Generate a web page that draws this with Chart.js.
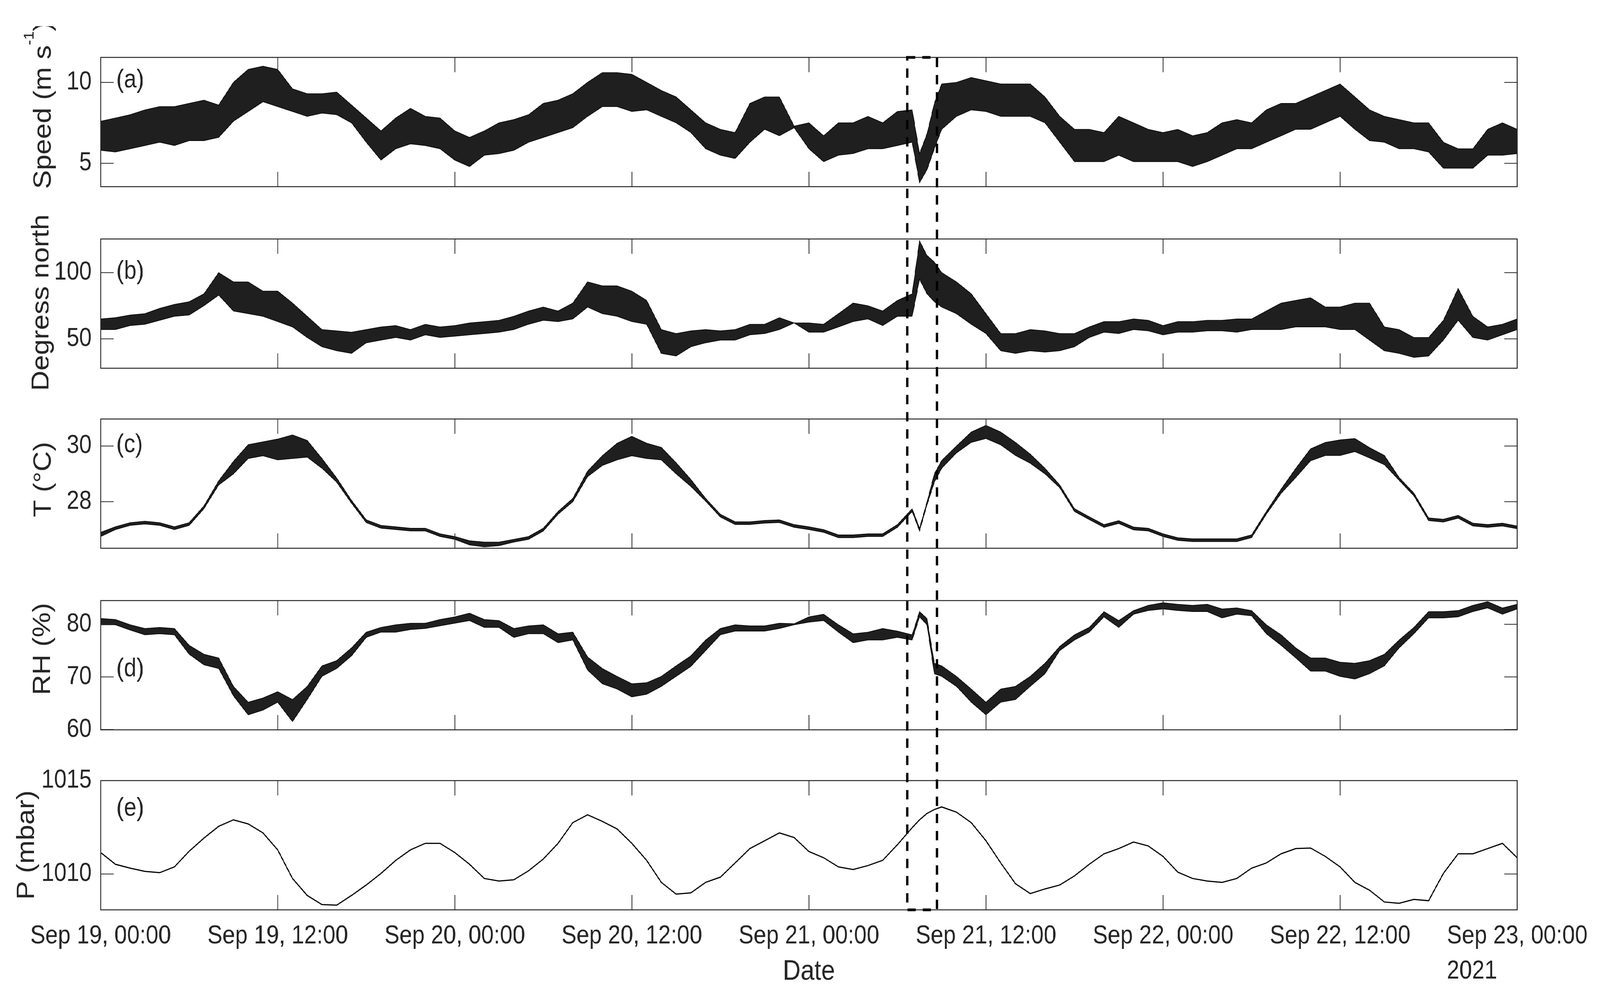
<!DOCTYPE html>
<html>
<head>
<meta charset="utf-8">
<script src="https://cdn.jsdelivr.net/npm/chart.js@4.4.1/dist/chart.umd.min.js"></script>
<style>
html,body{margin:0;padding:0;background:#fff;overflow:hidden;}
#outer{position:relative;overflow:hidden;background:#fff;}
#wrap{position:absolute;left:0;top:0;width:4674px;height:2566px;overflow:hidden;background:#fff;transform-origin:0 0;}
#wrap canvas{position:absolute;left:0;}
</style>
</head>
<body>
<div id="outer"><div id="wrap"></div></div>
<script>
// ---------------- DATA ----------------
// hours since Sep 19, 00:00 (2021)
const hours = [0,1,2,3,4,5,6,7,8,9,10,11,12,13,14,15,16,17,18,19,20,21,22,23,24,25,26,27,28,29,30,31,32,33,34,35,36,37,38,39,40,41,42,43,44,45,46,47,48,49,50,51,52,53,54,55,55.5,56,56.5,57,58,59,60,61,62,63,64,65,66,67,68,69,70,71,72,73,74,75,76,77,78,79,80,81,82,83,84,85,86,87,88,89,90,91,92,93,94,95,96];

// (a) wind speed, m/s: upper / lower edge of the noisy trace
const speedHi = [7.6,7.8,8.0,8.3,8.5,8.5,8.7,8.9,8.6,10.0,10.8,11.0,10.8,9.6,9.3,9.3,9.4,8.6,7.8,7.0,7.8,8.4,7.9,7.8,7.0,6.6,7.0,7.5,7.7,8.0,8.7,8.9,9.3,10.0,10.6,10.6,10.5,10.0,9.5,9.1,8.3,7.5,7.1,6.9,8.7,9.1,9.1,7.3,7.5,6.7,7.5,7.5,7.9,7.5,8.2,8.3,5.6,6.8,8.7,9.9,10.0,10.3,10.1,9.9,9.9,9.9,9.1,7.9,7.1,7.1,6.9,7.9,7.5,7.1,6.9,7.1,6.7,6.9,7.5,7.7,7.5,8.3,8.7,8.7,9.1,9.5,9.9,9.1,8.3,7.9,7.7,7.5,7.5,6.3,5.9,5.9,7.1,7.5,7.1];
const speedLo = [5.8,5.7,5.9,6.1,6.3,6.1,6.4,6.4,6.6,7.6,8.2,8.8,8.5,8.2,7.9,8.1,8.0,7.5,6.3,5.2,5.9,6.2,6.1,5.9,5.2,4.8,5.5,5.6,5.8,6.3,6.6,6.9,7.2,7.9,8.5,8.5,8.2,8.3,7.9,7.5,6.9,5.9,5.5,5.3,6.3,7.1,6.7,7.2,5.9,5.1,5.5,5.6,5.9,5.9,6.1,6.3,3.8,4.6,5.9,7.1,7.9,8.3,8.2,7.9,7.9,7.9,7.5,6.3,5.1,5.1,5.1,5.5,5.1,5.1,5.1,5.1,4.8,5.1,5.5,5.9,5.9,6.3,6.7,7.1,7.1,7.5,7.9,7.1,6.4,6.3,5.9,5.9,5.7,4.7,4.7,4.7,5.5,5.5,5.6];

// (b) wind direction, degrees north
const dirHi = [65,66,68,69,73,76,78,84,100,93,93,86,86,77,67,57,56,55,57,59,60,57,61,59,60,62,63,64,67,71,74,71,77,93,90,90,86,79,57,54,56,57,56,57,61,61,66,62,62,61,69,77,75,71,79,84,124,113,108,100,93,84,69,54,54,57,56,54,54,59,63,63,65,64,60,63,63,64,64,65,65,71,77,79,81,74,74,77,77,59,57,51,51,64,88,67,59,61,65];
const dirLo = [57,57,60,61,64,67,68,75,83,71,69,67,63,59,51,44,41,39,47,49,51,49,53,51,52,53,54,55,57,61,64,63,65,74,69,67,63,61,39,37,44,47,49,49,53,54,57,62,55,55,59,63,65,60,67,67,95,84,78,74,69,61,54,41,39,41,40,41,44,51,55,54,57,56,53,55,55,56,56,55,57,57,57,59,59,59,57,57,49,41,39,36,37,49,64,51,49,53,57];

// (c) air temperature, deg C
const tempHi = [26.9,27.1,27.25,27.3,27.25,27.1,27.25,27.85,28.75,29.45,30.05,30.15,30.25,30.4,30.2,29.55,28.85,28.05,27.35,27.15,27.1,27.05,27.05,26.85,26.75,26.6,26.55,26.55,26.65,26.75,27.05,27.65,28.12,29.1,29.65,30.1,30.35,30.1,29.95,29.4,28.8,28.12,27.55,27.28,27.28,27.33,27.35,27.18,27.1,27.0,26.81,26.81,26.85,26.85,27.18,27.75,27.05,27.98,29.0,29.48,30.0,30.5,30.74,30.5,30.13,29.71,29.2,28.6,27.75,27.46,27.18,27.32,27.09,27.05,26.85,26.71,26.67,26.67,26.67,26.67,26.81,27.65,28.45,29.2,29.9,30.13,30.22,30.27,29.94,29.66,28.87,28.31,27.42,27.37,27.51,27.23,27.18,27.23,27.13];
const tempLo = [26.75,27.0,27.15,27.2,27.15,27.0,27.15,27.75,28.6,29.0,29.55,29.65,29.5,29.55,29.6,29.2,28.7,27.95,27.25,27.05,27.0,26.95,26.95,26.75,26.65,26.45,26.38,26.42,26.55,26.65,26.95,27.55,28.0,28.9,29.3,29.5,29.65,29.55,29.5,29.0,28.55,28.02,27.45,27.18,27.18,27.23,27.25,27.08,27.0,26.9,26.71,26.71,26.75,26.75,27.08,27.65,26.95,27.88,28.7,29.2,29.75,30.13,30.27,30.04,29.66,29.38,29.0,28.5,27.65,27.36,27.08,27.22,26.99,26.95,26.75,26.61,26.57,26.57,26.57,26.57,26.71,27.55,28.3,28.87,29.47,29.66,29.66,29.8,29.57,29.33,28.77,28.21,27.32,27.27,27.41,27.13,27.08,27.13,27.03];

// (d) relative humidity, %
const rhHi = [81.1,80.9,79.9,79.2,79.4,79.2,76,74.3,73.6,68.2,65.2,66,67.2,65.7,68.2,72.1,73.1,75.5,78.5,79.4,79.9,80.2,80.2,80.9,81.4,82.1,80.9,80.7,79.2,79.7,79.9,78.2,78.5,73.8,71.6,70.1,68.7,68.9,70.1,72.1,74,77,79.2,79.9,79.7,79.7,80.2,80.1,81.4,81.9,79.9,78.2,78.5,79.2,78.7,78,82.4,81.1,72.6,72.1,70.1,67.7,65.2,67.7,68.2,70.1,72.6,75.8,78,79.4,82.4,80.7,82.6,83.6,84.1,83.8,83.6,83.8,82.9,83.1,82.6,79.9,78,75.5,73.6,73.6,72.8,72.6,73.1,74.3,77,79.4,82.4,82.4,82.6,83.6,84.3,83.1,83.8];
const rhLo = [79.9,79.9,78.9,78,78.2,78,74.3,72.3,71.6,66.4,62.8,63.7,65.2,61.5,65.7,70.1,71.6,74,77.5,78.5,78.5,79,79.2,79.7,80.2,80.7,79.4,79.4,77.5,78.2,78.2,76.5,77,71.3,68.7,67.7,66.2,66.7,68.2,70.1,72,75,78,78.7,78.7,78.7,79.2,79.9,80.4,80.7,78.5,76.5,77,77,77.5,77,81.4,79.9,70.6,70.1,68.2,65.2,62.8,65.2,65.7,68.2,70.6,75,77,78.5,81.4,79.4,81.9,82.6,82.9,82.6,82.4,82.4,81.2,81.9,81.6,78.2,76,73.6,71.1,71.1,70.1,69.6,70.6,72.1,75.5,78.2,81.2,81.2,81.4,82.4,83.1,81.9,82.9];

// (e) pressure, mbar
const presVals = [1011.15,1010.52,1010.31,1010.14,1010.07,1010.38,1011.22,1011.92,1012.55,1012.9,1012.68,1012.2,1011.29,1009.76,1008.85,1008.36,1008.33,1008.85,1009.41,1010.03,1010.73,1011.29,1011.64,1011.64,1011.15,1010.52,1009.76,1009.62,1009.69,1010.17,1010.8,1011.64,1012.75,1013.17,1012.82,1012.41,1011.64,1010.73,1009.55,1008.92,1008.99,1009.55,1009.83,1010.59,1011.36,1011.78,1012.2,1011.95,1011.2,1010.87,1010.38,1010.24,1010.45,1010.73,1011.57,1012.48,1012.9,1013.24,1013.45,1013.59,1013.31,1012.75,1011.78,1010.59,1009.48,1008.95,1009.2,1009.41,1009.9,1010.52,1011.08,1011.36,1011.71,1011.5,1010.94,1010.1,1009.76,1009.62,1009.55,1009.76,1010.31,1010.59,1011.08,1011.36,1011.39,1010.94,1010.38,1009.55,1009.13,1008.5,1008.43,1008.64,1008.57,1010.03,1011.08,1011.08,1011.36,1011.64,1010.87];

// axes
const xTickHours = [0,12,24,36,48,60,72,84,96];
const xTickLabels = ['Sep 19, 00:00','Sep 19, 12:00','Sep 20, 00:00','Sep 20, 12:00','Sep 21, 00:00','Sep 21, 12:00','Sep 22, 00:00','Sep 22, 12:00','Sep 23, 00:00'];
const yearLabel = '2021';
const xTitle = 'Date';
const speedTicks = [5,10];
const dirTicks = [50,100];
const tempTicks = [28,30];
const rhTicks = [60,70,80];
const presTicks = [1010,1015];
const speedRange = [3.56,11.54];
const dirRange = [27.8,125.4];
const tempRange = [26.33,30.97];
const rhRange = [59.95,84.5];
const presRange = [1008.08,1015];
// highlighted event (hours): dashed box
const eventBox = [54.66,56.68];

// ---------------- LAYOUT / STYLE ----------------
const FONT = '"Liberation Sans", Arial, Helvetica, sans-serif';
const TXT = '#262626';
const W = 4674, H = 2566;
const PLOT_L = 294, PLOT_R = 4432, PANEL_H = 331;
const panelTops = [147, 612, 1073, 1538, 1999];
const PAD = 80;
const TL = 38;

// fit the 4674x2566 drawing to fill the actual viewport
const outer = document.getElementById('outer');
const wrap = document.getElementById('wrap');
(function fit(){
  const de = document.documentElement;
  const vw = de.clientWidth || window.innerWidth || W;
  const vh = de.clientHeight || window.innerHeight || H;
  let sx = vw / W, sy = vh / H;
  if (Math.abs(sx - 1) < 0.002) sx = 1;
  if (Math.abs(sy - 1) < 0.002) sy = 1;
  wrap.style.transform = 'scale(' + sx + ',' + sy + ')';
  outer.style.width = (W * sx) + 'px';
  outer.style.height = (H * sy) + 'px';
})();

const panels = [
  {tag:'(a)', tagDy:59, range:speedRange, ticks:speedTicks, hi:speedHi, lo:speedLo,
   label:[{t:'Speed (m s',size:72,rise:0},{t:'-1',size:40,rise:50},{t:')',size:72,rise:0}], labX:148, labDy:123},
  {tag:'(b)', tagDy:84, range:dirRange, ticks:dirTicks, hi:dirHi, lo:dirLo,
   label:[{t:'Degress north',size:72,rise:0}], labX:142, labDy:163},
  {tag:'(c)', tagDy:67, range:tempRange, ticks:tempTicks, hi:tempHi, lo:tempLo,
   label:[{t:'T (°C)',size:72,rise:0}], labX:148, labDy:155},
  {tag:'(d)', tagDy:176, range:rhRange, ticks:rhTicks, hi:rhHi, lo:rhLo,
   label:[{t:'RH (%)',size:72,rise:0}], labX:146, labDy:124},
  {tag:'(e)', tagDy:72, range:presRange, ticks:presTicks, single:presVals,
   label:[{t:'P (mbar)',size:72,rise:0}], labX:99, labDy:165}
];

function pts(arr){ return hours.map((h,i)=>({x:h,y:arr[i]})); }

function drawYLabel(ctx, parts, x, y){
  ctx.save();
  ctx.translate(x,y);
  ctx.rotate(-Math.PI/2);
  ctx.fillStyle = TXT;
  ctx.textBaseline = 'alphabetic';
  ctx.textAlign = 'left';
  let total = 0;
  parts.forEach(p=>{ ctx.font = p.size+'px '+FONT; p.w = ctx.measureText(p.t).width; total += p.w; });
  let cx = -total/2;
  parts.forEach(p=>{ ctx.font = p.size+'px '+FONT; ctx.fillText(p.t, cx, -p.rise); cx += p.w; });
  ctx.restore();
}

function framePlugin(p, isLast){
  return {
    id:'frame'+p.tag,
    afterDraw(chart){
      const ctx = chart.ctx;
      const {left,right,top,bottom} = chart.chartArea;
      const xs = chart.scales.x, ys = chart.scales.y;
      ctx.save();
      ctx.strokeStyle = TXT;
      ctx.lineWidth = 2;
      ctx.beginPath();
      xTickHours.forEach(h=>{
        const px = xs.getPixelForValue(h);
        ctx.moveTo(px, top); ctx.lineTo(px, top+TL);
        ctx.moveTo(px, bottom); ctx.lineTo(px, bottom-TL);
      });
      p.ticks.forEach(v=>{
        const py = ys.getPixelForValue(v);
        ctx.moveTo(left, py); ctx.lineTo(left+TL, py);
        ctx.moveTo(right, py); ctx.lineTo(right-TL, py);
      });
      ctx.stroke();
      ctx.lineWidth = 2.5;
      ctx.strokeRect(left, top, right-left, bottom-top);
      // panel tag
      ctx.fillStyle = TXT;
      ctx.font = '66px '+FONT;
      ctx.textAlign = 'left';
      ctx.textBaseline = 'middle';
      ctx.fillText(p.tag, left+46, top+p.tagDy);
      // y label
      drawYLabel(ctx, p.label, p.labX, top+p.labDy);
      if (isLast) {
        ctx.font = '66px '+FONT;
        const lw = ctx.measureText(xTickLabels[xTickLabels.length-1]).width;
        const px = xs.getPixelForValue(xTickHours[xTickHours.length-1]);
        ctx.textAlign = 'left';
        ctx.textBaseline = 'middle';
        ctx.fillText(yearLabel, px - lw/2, bottom + 158);
      }
      ctx.restore();
    }
  };
}

const canvasTops = [];
const charts = panels.map((p, idx)=>{
  const last = idx === panels.length-1;
  const top = panelTops[idx] - PAD;
  const height = last ? (H - top) : (PANEL_H + 2*PAD);
  canvasTops.push(top);
  const cv = document.createElement('canvas');
  cv.width = W; cv.height = height;
  cv.style.top = top+'px'; cv.style.width = W+'px'; cv.style.height = height+'px';
  wrap.appendChild(cv);

  let datasets;
  if (p.single) {
    datasets = [{data:pts(p.single), borderColor:'#000', borderWidth:3, pointRadius:0, fill:false, tension:0}];
  } else {
    datasets = [
      {data:pts(p.hi), borderColor:'#000', borderWidth:1.5, pointRadius:0, fill:false, tension:0},
      {data:pts(p.lo), borderColor:'#000', borderWidth:1.5, pointRadius:0, fill:'-1', backgroundColor:'rgba(0,0,0,0.88)', tension:0}
    ];
  }

  const xScale = {
    type:'linear', min:0, max:96, display:last,
    afterBuildTicks:s=>{ s.ticks = xTickHours.map(v=>({value:v})); },
    grid:{display:false, drawTicks:false}, border:{display:false},
    ticks:{padding:28, autoSkip:false, maxRotation:0, minRotation:0, color:TXT,
           font:{family:FONT, size:66, lineHeight:1.2},
           callback:(v)=>xTickLabels[xTickHours.indexOf(v)]},
    title:{display:last, text:xTitle, color:TXT, font:{family:FONT, size:72, lineHeight:1.2}, padding:{top:0,bottom:34}}
  };
  if (last) xScale.afterFit = s=>{ s.height = H - (panelTops[idx] + PANEL_H); };

  return new Chart(cv.getContext('2d'), {
    type:'line',
    data:{datasets},
    options:{
      responsive:false, animation:false, devicePixelRatio:1, events:[],
      layout:{padding:{top:PAD, bottom:last?0:PAD, left:0, right:W-PLOT_R}},
      plugins:{legend:{display:false}, tooltip:{enabled:false}},
      scales:{
        x:xScale,
        y:{
          min:p.range[0], max:p.range[1],
          afterBuildTicks:s=>{ s.ticks = p.ticks.map(v=>({value:v})); },
          afterFit:s=>{ s.width = PLOT_L; },
          grid:{display:false, drawTicks:false}, border:{display:false},
          ticks:{padding:26, color:TXT, font:{family:FONT, size:66, lineHeight:1.2}, callback:(v)=>String(v)}
        }
      }
    },
    plugins:[framePlugin(p, last)]
  });
});

// dashed box marking the event, drawn over all panels using the shared x scale
const ov = document.createElement('canvas');
ov.width = W; ov.height = H; ov.style.top = '0px'; ov.style.width = W+'px'; ov.style.height = H+'px';
wrap.appendChild(ov);
const oc = ov.getContext('2d');
const xsE = charts[charts.length-1].scales.x;
const bx0 = xsE.getPixelForValue(eventBox[0]);
const bx1 = xsE.getPixelForValue(eventBox[1]);
const by0 = canvasTops[0] + charts[0].chartArea.top;
const by1 = canvasTops[canvasTops.length-1] + charts[charts.length-1].chartArea.bottom;
oc.strokeStyle = '#000';
oc.lineWidth = 7;
oc.setLineDash([24,20]);
oc.strokeRect(bx0, by0, bx1-bx0, by1-by0);
</script>
</body>
</html>
